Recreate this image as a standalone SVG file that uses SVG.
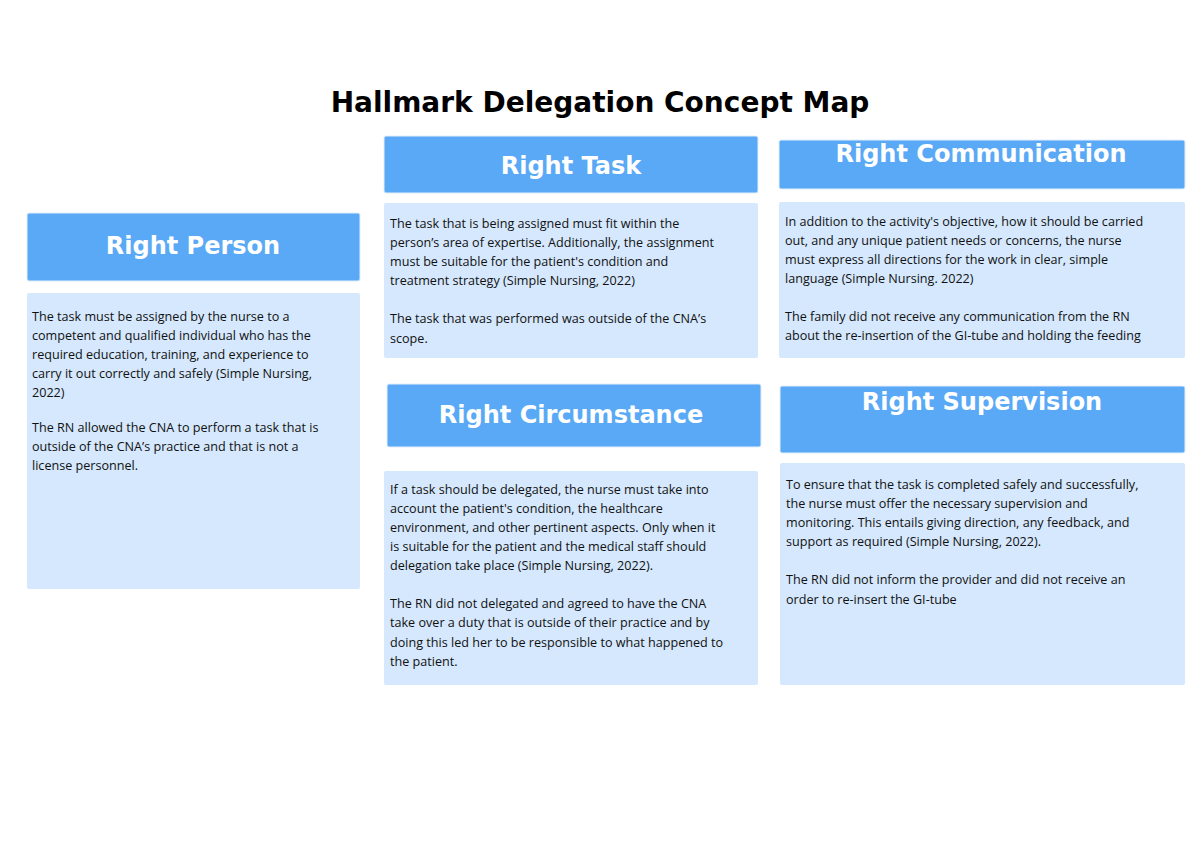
<svg xmlns="http://www.w3.org/2000/svg" width="1200" height="849" viewBox="0 0 1200 849">
<style>
.h{fill:#5aa9f6;stroke:#e3eefb;stroke-width:1}
.b{fill:#d5e8fd}
.ht{font-family:"DejaVu Sans",sans-serif;font-weight:bold;font-size:24px;fill:#fff;text-anchor:middle}
.t{font-family:"Open Sans","Liberation Sans",sans-serif;font-size:12.6px;fill:#111}
</style>
<rect width="1200" height="849" fill="#fff"/>
<text x="600" y="112" text-anchor="middle" font-family="DejaVu Sans,sans-serif" font-weight="bold" font-size="28" fill="#000">Hallmark Delegation Concept Map</text>
<g id="right-person">
<rect class="h" x="27" y="213" width="333" height="68" rx="2"/>
<text class="ht" x="193" y="254">Right Person</text>
<rect class="b" x="27" y="293" width="333" height="296" rx="2"/>
<text class="t"><tspan x="32" y="321">The task must be assigned by the nurse to a</tspan><tspan x="32" y="340">competent and qualified individual who has the</tspan><tspan x="32" y="359">required education, training, and experience to</tspan><tspan x="32" y="378">carry it out correctly and safely (Simple Nursing,</tspan><tspan x="32" y="397">2022)</tspan><tspan x="32" y="432">The RN allowed the CNA to perform a task that is</tspan><tspan x="32" y="451">outside of the CNA’s practice and that is not a</tspan><tspan x="32" y="470">license personnel.</tspan></text>
</g>
<g id="right-task">
<rect class="h" x="384" y="136" width="374" height="57" rx="2"/>
<text class="ht" x="571" y="174">Right Task</text>
<rect class="b" x="384" y="203" width="374" height="155" rx="2"/>
<text class="t"><tspan x="390" y="228">The task that is being assigned must fit within the</tspan><tspan x="390" y="247">person’s area of expertise. Additionally, the assignment</tspan><tspan x="390" y="266">must be suitable for the patient's condition and</tspan><tspan x="390" y="285">treatment strategy (Simple Nursing, 2022)</tspan><tspan x="390" y="323">The task that was performed was outside of the CNA’s</tspan><tspan x="390" y="343">scope.</tspan></text>
</g>
<g id="right-communication">
<rect class="h" x="779" y="140" width="406" height="49" rx="2"/>
<text class="ht" x="981" y="162">Right Communication</text>
<rect class="b" x="779" y="202" width="406" height="156" rx="2"/>
<text class="t"><tspan x="785" y="226">In addition to the activity's objective, how it should be carried</tspan><tspan x="785" y="245">out, and any unique patient needs or concerns, the nurse</tspan><tspan x="785" y="264">must express all directions for the work in clear, simple</tspan><tspan x="785" y="283">language (Simple Nursing. 2022)</tspan><tspan x="785" y="321">The family did not receive any communication from the RN</tspan><tspan x="785" y="340">about the re-insertion of the GI-tube and holding the feeding</tspan></text>
</g>
<g id="right-circumstance">
<rect class="h" x="387" y="384" width="374" height="63" rx="2"/>
<text class="ht" x="571" y="423">Right Circumstance</text>
<rect class="b" x="384" y="471" width="374" height="214" rx="2"/>
<text class="t"><tspan x="390" y="494">If a task should be delegated, the nurse must take into</tspan><tspan x="390" y="513">account the patient's condition, the healthcare</tspan><tspan x="390" y="532">environment, and other pertinent aspects. Only when it</tspan><tspan x="390" y="551">is suitable for the patient and the medical staff should</tspan><tspan x="390" y="570">delegation take place (Simple Nursing, 2022).</tspan><tspan x="390" y="608">The RN did not delegated and agreed to have the CNA</tspan><tspan x="390" y="627">take over a duty that is outside of their practice and by</tspan><tspan x="390" y="647">doing this led her to be responsible to what happened to</tspan><tspan x="390" y="666">the patient.</tspan></text>
</g>
<g id="right-supervision">
<rect class="h" x="780" y="386" width="405" height="67" rx="2"/>
<text class="ht" x="982" y="410">Right Supervision</text>
<rect class="b" x="780" y="463" width="405" height="222" rx="2"/>
<text class="t"><tspan x="786" y="489">To ensure that the task is completed safely and successfully,</tspan><tspan x="786" y="508">the nurse must offer the necessary supervision and</tspan><tspan x="786" y="527">monitoring. This entails giving direction, any feedback, and</tspan><tspan x="786" y="546">support as required (Simple Nursing, 2022).</tspan><tspan x="786" y="584">The RN did not inform the provider and did not receive an</tspan><tspan x="786" y="604">order to re-insert the GI-tube</tspan></text>
</g>
<g id="connectors"></g>
</svg>
